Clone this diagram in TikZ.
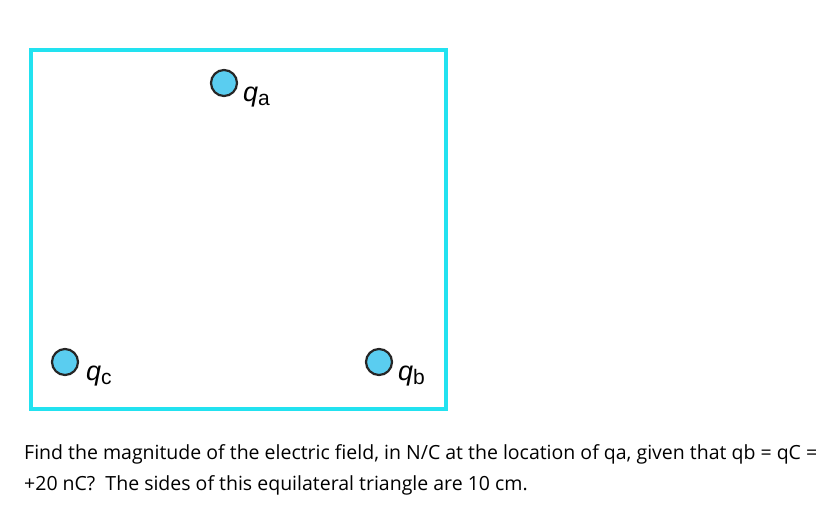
\documentclass[tikz,border=0pt]{standalone}
\usepackage{fontspec}
\setmainfont{Open Sans}
\newfontfamily\lab{Liberation Sans}
\definecolor{boxcyan}{RGB}{34,226,240}
\definecolor{chargefill}{RGB}{90,205,240}
\begin{document}
\begin{tikzpicture}[x=1pt,y=-1pt,
  charge/.style={circle,draw=black!85,line width=2.2pt,fill=chargefill,minimum size=26pt,inner sep=0pt},
  qlabel/.style={anchor=west,inner sep=0pt,font=\lab\fontsize{27}{27}\selectfont}]
\useasboundingbox (0,0) rectangle (826,504);
\node[draw=boxcyan,line width=4pt,minimum width=415pt,minimum height=359pt,inner sep=0pt] (box) at (238.5,229.5) {};
\node[charge] (qa) at (224,83) {};
\node[charge] (qc) at (65,362) {};
\node[charge] (qb) at (379,362) {};
\node[qlabel] (la) at (243,97) {\textit{q}\raisebox{-4pt}{\fontsize{21}{21}\selectfont a}};
\node[qlabel] (lc) at (86,376) {\textit{q}\raisebox{-4pt}{\fontsize{21}{21}\selectfont c}};
\node[qlabel] (lb) at (398,376) {\textit{q}\raisebox{-4pt}{\fontsize{21}{21}\selectfont b}};
\node[anchor=base west,align=left,inner sep=0pt,font=\fontsize{19.5}{31}\selectfont] (txt) at (24,490)
 {Find the magnitude of the electric field, in N/C at the location of qa, given that qb = qC =\\
 +20 nC?\ \ The sides of this equilateral triangle are 10 cm.};
\end{tikzpicture}
\end{document}
